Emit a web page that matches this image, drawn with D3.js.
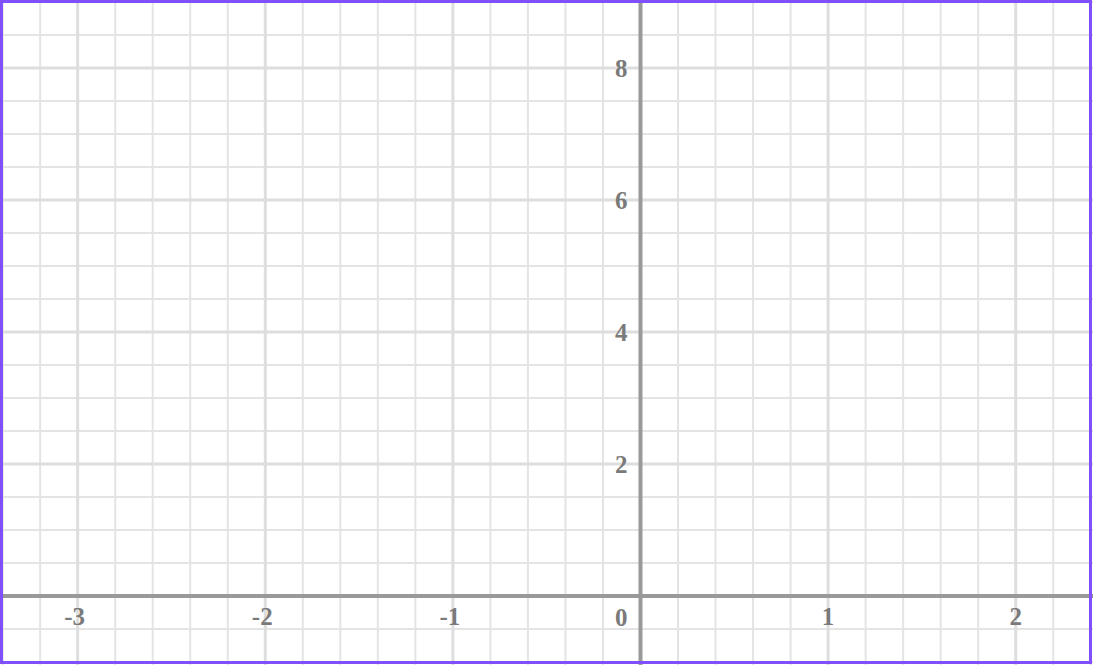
<!DOCTYPE html>
<html>
<head>
<meta charset="utf-8">
<script src="https://cdn.jsdelivr.net/npm/d3@7"></script>
<style>
  body { margin: 0; background: #fff; }
  svg { display: block; }
</style>
</head>
<body>
<div class="visHolder"></div>
<script>
// axis window and tick labels
const xDomain = [-3.414, 2.412];
const yDomain = [-1.045, 9.03];
const xLabels = [-3, -2, -1, 1, 2];
const yLabels = [2, 4, 6, 8];
const originLabel = '0';

const width = 1093,
    height = 665;

const svg = d3.select('.visHolder')
    .append('svg')
    .attr('width', width)
    .attr('height', height);

const xScale = d3.scaleLinear().domain(xDomain).range([0, width]);
const yScale = d3.scaleLinear().domain(yDomain).range([height, 0]);

// grid: minor every 0.2 on x, 0.5 on y; major on integers / even numbers
const xMinor = d3.range(-17, 13).map(i => i / 5).filter(v => Math.abs(v - Math.round(v)) > 1e-9);
const xMajor = d3.range(-3, 3);
const yMinor = d3.range(-2, 19).map(i => i / 2).filter(v => v % 2 !== 0);
const yMajor = d3.range(-2, 10, 2);

const grid = svg.append('g').attr('class', 'grid');

grid.selectAll('line.xminor')
    .data(xMinor)
    .enter()
    .append('line')
    .attr('class', 'xminor')
    .attr('x1', d => xScale(d)).attr('x2', d => xScale(d))
    .attr('y1', 0).attr('y2', height)
    .style('stroke', '#e4e4e4')
    .style('stroke-width', 2);

grid.selectAll('line.yminor')
    .data(yMinor)
    .enter()
    .append('line')
    .attr('class', 'yminor')
    .attr('y1', d => yScale(d)).attr('y2', d => yScale(d))
    .attr('x1', 0).attr('x2', width)
    .style('stroke', '#e4e4e4')
    .style('stroke-width', 2);

grid.selectAll('line.xmajor')
    .data(xMajor)
    .enter()
    .append('line')
    .attr('class', 'xmajor')
    .attr('x1', d => xScale(d)).attr('x2', d => xScale(d))
    .attr('y1', 0).attr('y2', height)
    .style('stroke', '#dedede')
    .style('stroke-width', 3);

grid.selectAll('line.ymajor')
    .data(yMajor)
    .enter()
    .append('line')
    .attr('class', 'ymajor')
    .attr('y1', d => yScale(d)).attr('y2', d => yScale(d))
    .attr('x1', 0).attr('x2', width)
    .style('stroke', '#dedede')
    .style('stroke-width', 3);

// axes
svg.append('line')
    .attr('x1', 0).attr('x2', width)
    .attr('y1', yScale(0)).attr('y2', yScale(0))
    .style('stroke', '#999')
    .style('stroke-width', 4);

svg.append('line')
    .attr('x1', xScale(0)).attr('x2', xScale(0))
    .attr('y1', 0).attr('y2', height)
    .style('stroke', '#999')
    .style('stroke-width', 4);

// labels
const labelStyle = sel => sel
    .style('font-family', '"Liberation Serif", "Times New Roman", serif')
    .style('font-weight', 'bold')
    .style('font-size', '25px')
    .style('fill', '#7a7a7a');

svg.selectAll('text.xlabel')
    .data(xLabels)
    .enter()
    .append('text')
    .attr('class', 'xlabel')
    .attr('x', d => xScale(d) - (d < 0 ? 3 : 0))
    .attr('y', yScale(0) + 29)
    .attr('text-anchor', 'middle')
    .text(d => d)
    .call(labelStyle);

svg.selectAll('text.ylabel')
    .data(yLabels)
    .enter()
    .append('text')
    .attr('class', 'ylabel')
    .attr('x', xScale(0) - 13)
    .attr('y', d => yScale(d))
    .attr('dy', '0.35em')
    .attr('text-anchor', 'end')
    .text(d => d)
    .call(labelStyle);

svg.append('text')
    .attr('x', xScale(0) - 13)
    .attr('y', yScale(0) + 30)
    .attr('text-anchor', 'end')
    .text(originLabel)
    .call(labelStyle);

// frame
svg.append('rect')
    .attr('x', 1.5).attr('y', 1.5)
    .attr('width', 1089).attr('height', 661)
    .style('fill', 'none')
    .style('stroke', '#8050ff')
    .style('stroke-width', 3);
</script>
</body>
</html>
